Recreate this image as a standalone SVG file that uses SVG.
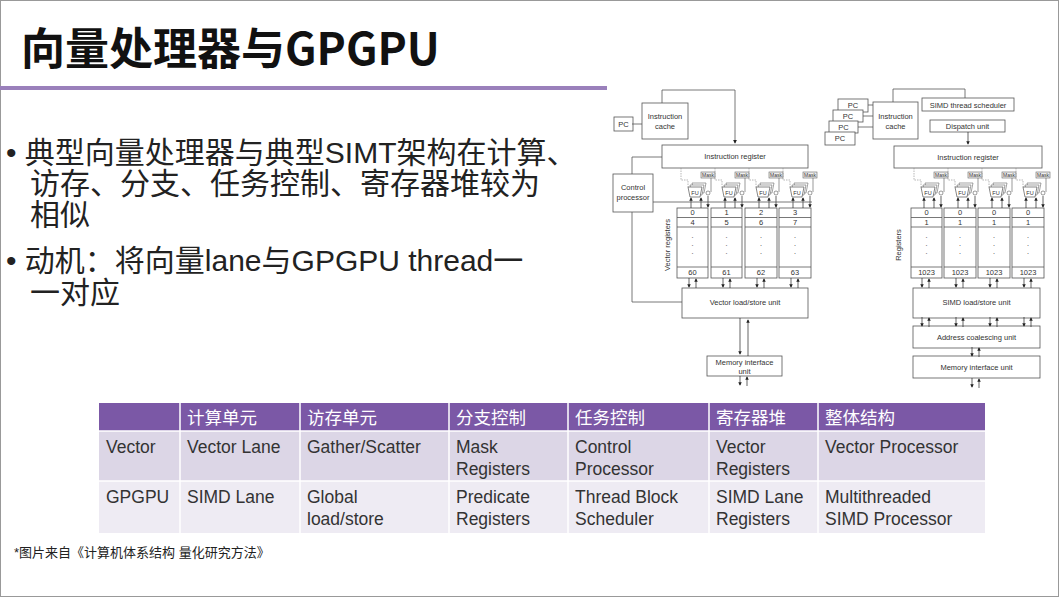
<svg xmlns="http://www.w3.org/2000/svg" width="1059" height="597" viewBox="0 0 1059 597">
<defs>
<marker id="a" markerWidth="5" markerHeight="5" refX="4" refY="2.5" orient="auto"><path d="M0,0L5,2.5L0,5z" fill="#222"/></marker>
<g id="fu">
<path d="M11,11 h14 l-2,10 h-10z" fill="#fff" stroke="#666" stroke-width="0.6"/>
<path d="M9,13 h14 l-2,10 h-10z" fill="#fff" stroke="#666" stroke-width="0.6"/>
<path d="M7,15 h14 l-2,10 h-10z" fill="#fff" stroke="#555" stroke-width="0.7"/>
<text x="14" y="23" class="t" font-size="5.5" text-anchor="middle">FU</text>
<rect x="20" y="0" width="14" height="6" fill="#eee" stroke="#666" stroke-width="0.6"/>
<text x="27" y="5" class="t" font-size="5" text-anchor="middle">Mask</text>
<path d="M30,6 v14" stroke="#555" stroke-width="0.6"/>
<circle cx="27" cy="21" r="2" fill="#fff" stroke="#555" stroke-width="0.6"/>
<path d="M0,-4 v12 h7 v7" fill="none" stroke="#888" stroke-width="0.6" stroke-dasharray="1.5,1"/>
<path d="M10,36 v-10" stroke="#222" stroke-width="0.7" marker-end="url(#a)"/>
<path d="M20,36 v-10" stroke="#222" stroke-width="0.7" marker-end="url(#a)"/>
<path d="M27,24 v11" stroke="#222" stroke-width="0.7" marker-end="url(#a)"/>
</g>
<g id="ud">
<path d="M0,0 v9" stroke="#222" stroke-width="0.7" marker-end="url(#a)"/>
<path d="M7,10 v-9" stroke="#222" stroke-width="0.7" marker-end="url(#a)"/>
</g>
</defs>
<style>
.t{font-family:"Liberation Sans",Arial,sans-serif;fill:#333}
.b{fill:#fff;stroke:#555;stroke-width:0.8}
.l{fill:none;stroke:#555;stroke-width:0.8}
.s{font-size:7.5px;text-anchor:middle}
.h{font-family:"Liberation Sans","Noto Sans CJK SC",sans-serif;font-size:17.5px;fill:#fff}
.c{font-family:"Liberation Sans","Noto Sans CJK SC",sans-serif;font-size:17.5px;fill:#333}
.bu{font-family:"Liberation Sans","Noto Sans CJK SC",sans-serif;font-size:30px;fill:#222}
</style>
<rect x="0.5" y="0.5" width="1058" height="596" fill="#fff" stroke="#999"/>
<g id="title">
<text x="21" y="65" font-family="'Noto Sans CJK SC',sans-serif" font-weight="bold" font-size="44" fill="#111">向量处理器与GPGPU</text>
<rect x="0" y="86" width="607" height="4" fill="#9a80bb"/>
</g>
<g id="bullets">
<text x="6" y="163" class="bu">• 典型向量处理器与典型SIMT架构在计算、</text>
<text x="30" y="194" class="bu">访存、分支、任务控制、寄存器堆较为</text>
<text x="30" y="225" class="bu">相似</text>
<text x="6" y="271" class="bu">• 动机：将向量lane与GPGPU thread一</text>
<text x="30" y="303" class="bu">一对应</text>
</g>
<g id="vector-fig">
<rect class="b" x="614" y="117" width="19" height="14"/><text class="t s" x="623.5" y="127">PC</text>
<rect class="b" x="642" y="103" width="46" height="36"/><text class="t s" x="665" y="119">Instruction</text><text class="t s" x="665" y="129">cache</text>
<rect class="b" x="662" y="145" width="146" height="23"/><text class="t s" x="735" y="159">Instruction register</text>
<rect class="b" x="613" y="174" width="40" height="38"/><text class="t s" x="633" y="190">Control</text><text class="t s" x="633" y="200">processor</text>
<g id="vregs">
<rect class="b" x="677" y="208" width="31" height="70"/><rect class="b" x="711" y="208" width="31" height="70"/><rect class="b" x="745" y="208" width="32" height="70"/><rect class="b" x="779" y="208" width="32" height="70"/>
<path class="l" d="M677,217.5h31M711,217.5h31M745,217.5h32M779,217.5h32M677,227h31M711,227h31M745,227h32M779,227h32M677,267h31M711,267h31M745,267h32M779,267h32"/>
<text class="t s" x="692.5" y="215">0</text><text class="t s" x="726.5" y="215">1</text><text class="t s" x="761" y="215">2</text><text class="t s" x="795" y="215">3</text>
<text class="t s" x="692.5" y="225">4</text><text class="t s" x="726.5" y="225">5</text><text class="t s" x="761" y="225">6</text><text class="t s" x="795" y="225">7</text>
<text class="t s" x="692.5" y="275">60</text><text class="t s" x="726.5" y="275">61</text><text class="t s" x="761" y="275">62</text><text class="t s" x="795" y="275">63</text>
<text class="t s" x="692.5" y="240">·</text><text class="t s" x="692.5" y="248">·</text><text class="t s" x="692.5" y="256">·</text>
<text class="t s" x="726.5" y="240">·</text><text class="t s" x="726.5" y="248">·</text><text class="t s" x="726.5" y="256">·</text>
<text class="t s" x="761" y="240">·</text><text class="t s" x="761" y="248">·</text><text class="t s" x="761" y="256">·</text>
<text class="t s" x="795" y="240">·</text><text class="t s" x="795" y="248">·</text><text class="t s" x="795" y="256">·</text>
<text class="t s" transform="translate(670,245) rotate(-90)">Vector registers</text>
</g>
<use href="#fu" x="681" y="172"/><use href="#fu" x="715" y="172"/><use href="#fu" x="749" y="172"/><use href="#fu" x="783" y="172"/>
<rect class="b" x="682" y="288" width="126" height="30"/><text class="t s" x="745" y="305">Vector load/store unit</text>
<rect class="b" x="707" y="356" width="75" height="20"/><text class="t s" x="744.5" y="365">Memory interface</text><text class="t s" x="744.5" y="374">unit</text>
</g>
<g id="simd-fig">
<rect class="b" x="838" y="99" width="30" height="13"/><text class="t s" x="853" y="108">PC</text>
<rect class="b" x="833" y="110" width="30" height="12"/><text class="t s" x="848" y="119">PC</text>
<rect class="b" x="829" y="121" width="29" height="12"/><text class="t s" x="843.5" y="130">PC</text>
<rect class="b" x="825" y="132" width="30" height="13"/><text class="t s" x="840" y="141">PC</text>
<rect class="b" x="873" y="102" width="45" height="37"/><text class="t s" x="895.5" y="119">Instruction</text><text class="t s" x="895.5" y="129">cache</text>
<rect class="b" x="922" y="98" width="92" height="13"/><text class="t s" x="968" y="107.5">SIMD thread scheduler</text>
<rect class="b" x="930" y="120" width="75" height="12"/><text class="t s" x="967.5" y="129">Dispatch unit</text>
<rect class="b" x="894" y="146" width="148" height="22"/><text class="t s" x="968" y="159.5">Instruction register</text>
<g id="sregs">
<rect class="b" x="911" y="208" width="31" height="70"/><rect class="b" x="944" y="208" width="32" height="70"/><rect class="b" x="978" y="208" width="32" height="70"/><rect class="b" x="1012" y="208" width="32" height="70"/>
<path class="l" d="M911,217.5h31M944,217.5h32M978,217.5h32M1012,217.5h32M911,227h31M944,227h32M978,227h32M1012,227h32M911,267h31M944,267h32M978,267h32M1012,267h32"/>
<text class="t s" x="926.5" y="215">0</text><text class="t s" x="960" y="215">0</text><text class="t s" x="994" y="215">0</text><text class="t s" x="1028" y="215">0</text>
<text class="t s" x="926.5" y="225">1</text><text class="t s" x="960" y="225">1</text><text class="t s" x="994" y="225">1</text><text class="t s" x="1028" y="225">1</text>
<text class="t s" x="926.5" y="275">1023</text><text class="t s" x="960" y="275">1023</text><text class="t s" x="994" y="275">1023</text><text class="t s" x="1028" y="275">1023</text>
<text class="t s" x="926.5" y="240">·</text><text class="t s" x="926.5" y="248">·</text><text class="t s" x="926.5" y="256">·</text>
<text class="t s" x="960" y="240">·</text><text class="t s" x="960" y="248">·</text><text class="t s" x="960" y="256">·</text>
<text class="t s" x="994" y="240">·</text><text class="t s" x="994" y="248">·</text><text class="t s" x="994" y="256">·</text>
<text class="t s" x="1028" y="240">·</text><text class="t s" x="1028" y="248">·</text><text class="t s" x="1028" y="256">·</text>
<text class="t s" transform="translate(901,245) rotate(-90)">Registers</text>
</g>
<use href="#fu" x="914" y="172"/><use href="#fu" x="948" y="172"/><use href="#fu" x="982" y="172"/><use href="#fu" x="1016" y="172"/>
<rect class="b" x="913" y="288" width="127" height="30"/><text class="t s" x="976.5" y="305">SIMD load/store unit</text>
<rect class="b" x="913" y="326" width="127" height="22"/><text class="t s" x="976.5" y="340">Address coalescing unit</text>
<rect class="b" x="913" y="356" width="127" height="22"/><text class="t s" x="976.5" y="370">Memory interface unit</text>
</g>
<g id="connectors">
<path class="l" d="M632,124h10"/>
<path class="l" d="M662,103V90H735V143" marker-end="url(#a)"/>
<path class="l" d="M662,157H632V174"/>
<path class="l" d="M632,212V302H682"/>
<path class="l" d="M653,202H812"/>
<use href="#ud" x="689" y="278"/><use href="#ud" x="723" y="278"/><use href="#ud" x="757" y="278"/><use href="#ud" x="791" y="278"/>
<path d="M740,318V354" stroke="#222" stroke-width="0.7" marker-end="url(#a)"/>
<path d="M748,356V320" stroke="#222" stroke-width="0.7" marker-end="url(#a)"/>
<use href="#ud" x="740" y="376"/>
<path class="l" d="M868,105h5"/><path class="l" d="M863,116h10"/><path class="l" d="M858,127h15"/>
<path class="l" d="M893,102V89H965V98"/>
<path d="M968,132V144" stroke="#222" stroke-width="0.7" marker-end="url(#a)"/>
<use href="#ud" x="922" y="278"/><use href="#ud" x="956" y="278"/><use href="#ud" x="990" y="278"/><use href="#ud" x="1024" y="278"/>
<use href="#ud" x="922" y="317"/><use href="#ud" x="956" y="317"/><use href="#ud" x="990" y="317"/><use href="#ud" x="1024" y="317"/>
<use href="#ud" x="972" y="347"/><use href="#ud" x="972" y="378"/>
</g>
<g id="table">
<rect x="99" y="403" width="886" height="28" fill="#7b58a6"/>
<rect x="99" y="431" width="886" height="50" fill="#dcd6e6"/>
<rect x="99" y="481" width="886" height="52" fill="#eeebf3"/>
<path d="M180,403V533M300,403V533M449,403V533M568,403V533M709,403V533M818,403V533M99,431H985M99,481H985" stroke="#fff" stroke-width="1.5"/>
<text class="h" x="187" y="424">计算单元</text><text class="h" x="307" y="424">访存单元</text><text class="h" x="456" y="424">分支控制</text><text class="h" x="575" y="424">任务控制</text><text class="h" x="716" y="424">寄存器堆</text><text class="h" x="825" y="424">整体结构</text>
<text class="c" x="106" y="453">Vector</text><text class="c" x="187" y="453">Vector Lane</text><text class="c" x="307" y="453">Gather/Scatter</text>
<text class="c" x="456" y="453">Mask</text><text class="c" x="456" y="475">Registers</text>
<text class="c" x="575" y="453">Control</text><text class="c" x="575" y="475">Processor</text>
<text class="c" x="716" y="453">Vector</text><text class="c" x="716" y="475">Registers</text>
<text class="c" x="825" y="453">Vector Processor</text>
<text class="c" x="106" y="503">GPGPU</text><text class="c" x="187" y="503">SIMD Lane</text>
<text class="c" x="307" y="503">Global</text><text class="c" x="307" y="525">load/store</text>
<text class="c" x="456" y="503">Predicate</text><text class="c" x="456" y="525">Registers</text>
<text class="c" x="575" y="503">Thread Block</text><text class="c" x="575" y="525">Scheduler</text>
<text class="c" x="716" y="503">SIMD Lane</text><text class="c" x="716" y="525">Registers</text>
<text class="c" x="825" y="503">Multithreaded</text><text class="c" x="825" y="525">SIMD Processor</text>
</g>
<text x="14" y="557" font-family="'Liberation Sans','Noto Sans CJK SC',sans-serif" font-size="13" fill="#222">*图片来自《计算机体系结构 量化研究方法》</text>
</svg>
